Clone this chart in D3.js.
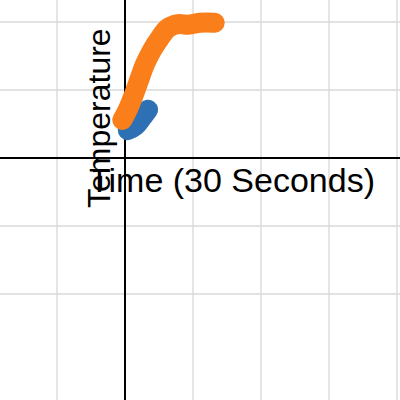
<!DOCTYPE html>
<html><head><meta charset="utf-8">
<script src="https://cdn.jsdelivr.net/npm/d3@7"></script>
<style>body{margin:0;background:#fff}</style>
</head><body><svg id="chart"></svg>
<script>
const gridTicks = [-2, -1, 0, 1, 2, 3, 4];
const blueX = [0.04, 0.15, 0.25, 0.34];
const blueY = [0.41, 0.47, 0.59, 0.71];
const orangeX = [-0.04, 0.04, 0.13, 0.22, 0.29, 0.40, 0.51, 0.63, 0.78, 0.93, 1.10, 1.32];
const orangeY = [0.56, 0.71, 0.93, 1.18, 1.37, 1.59, 1.76, 1.91, 1.97, 1.96, 1.99, 1.99];
const xLabel = "Time (30 Seconds)";
const yLabel = "Temperature";

const width = 400, height = 400;
const svg = d3.select("#chart").attr("width", width).attr("height", height);
const x = d3.scaleLinear().domain([-125 / 68, 275 / 68]).range([0, width]);
const y = d3.scaleLinear().domain([-242 / 68, 158 / 68]).range([height, 0]);

svg.append("g").selectAll("line.v").data(gridTicks).join("line")
    .attr("x1", d => x(d)).attr("x2", d => x(d)).attr("y1", 0).attr("y2", height)
    .attr("stroke", "#d8d8d8").attr("stroke-width", 1.3);
svg.append("g").selectAll("line.h").data(gridTicks).join("line")
    .attr("y1", d => y(d)).attr("y2", d => y(d)).attr("x1", 0).attr("x2", width)
    .attr("stroke", "#d8d8d8").attr("stroke-width", 1.3);

svg.append("line").attr("x1", x(0)).attr("x2", x(0)).attr("y1", 0).attr("y2", height)
    .attr("stroke", "#000").attr("stroke-width", 2);
svg.append("line").attr("y1", y(0)).attr("y2", y(0)).attr("x1", 0).attr("x2", width)
    .attr("stroke", "#000").attr("stroke-width", 2);

const line = d3.line().x(d => x(d[0])).y(d => y(d[1])).curve(d3.curveCatmullRom);
svg.append("path").datum(d3.zip(blueX, blueY)).attr("d", line)
    .attr("fill", "none").attr("stroke", "#2d70b3").attr("stroke-width", 20)
    .attr("stroke-linecap", "round").attr("stroke-linejoin", "round");
svg.append("path").datum(d3.zip(orangeX, orangeY)).attr("d", line)
    .attr("fill", "none").attr("stroke", "#fa7e19").attr("stroke-width", 20)
    .attr("stroke-linecap", "round").attr("stroke-linejoin", "round");

svg.append("text").text(xLabel).attr("x", 89).attr("y", 192)
    .attr("font-family", "Liberation Sans, Arial, sans-serif").attr("font-size", 34).attr("fill", "#000");
svg.append("text").text(yLabel)
    .attr("transform", "translate(110,208) rotate(-90)")
    .attr("font-family", "Liberation Sans, Arial, sans-serif").attr("font-size", 32).attr("fill", "#000");
</script></body></html>
